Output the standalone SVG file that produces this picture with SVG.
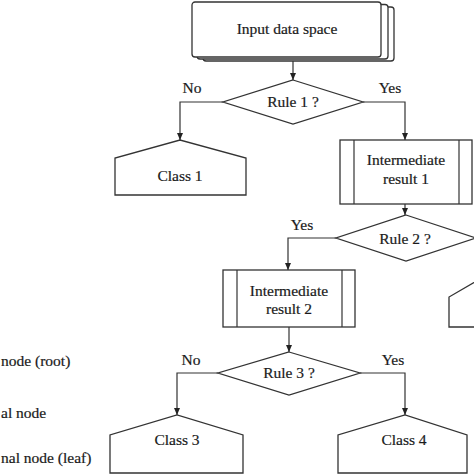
<svg xmlns="http://www.w3.org/2000/svg" width="474" height="474" viewBox="0 0 474 474">
<style>
.s{fill:#fff;stroke:#333;stroke-width:1.3}
.c{fill:none;stroke:#333;stroke-width:1.2}
.t{font-family:"Liberation Serif","Times New Roman",serif;font-size:15.5px;fill:#1a1a1a;stroke:#1a1a1a;stroke-width:0.2;text-anchor:middle}
.l{font-family:"Liberation Serif","Times New Roman",serif;font-size:15.5px;fill:#1a1a1a;stroke:#1a1a1a;stroke-width:0.2;text-anchor:start}
</style>
<defs>
<marker id="ah" markerUnits="userSpaceOnUse" markerWidth="8" markerHeight="6" refX="7" refY="3" orient="auto">
<path d="M0,0 L7,3 L0,6 z" fill="#222"/>
</marker>
</defs>
<rect width="474" height="474" fill="#fff"/>
<g id="legend">
<text class="l" x="1" y="366">node (root)</text>
<text class="l" x="1" y="418">al node</text>
<text class="l" x="1" y="463">nal node (leaf)</text>
</g>
<g id="connectors">
<path class="c" d="M293,57 V80" marker-end="url(#ah)"/>
<path class="c" d="M223,102 H180 V140" marker-end="url(#ah)"/>
<path class="c" d="M363,102 H405 V140" marker-end="url(#ah)"/>
<path class="c" d="M405,204 V215" marker-end="url(#ah)"/>
<path class="c" d="M336,238 H288 V270" marker-end="url(#ah)"/>
<path class="c" d="M289,327 V352" marker-end="url(#ah)"/>
<path class="c" d="M218,373 H177 V415" marker-end="url(#ah)"/>
<path class="c" d="M360,373 H405 V415" marker-end="url(#ah)"/>
<text class="t" x="192" y="93">No</text>
<text class="t" x="390" y="93">Yes</text>
<text class="t" x="302" y="230">Yes</text>
<text class="t" x="191" y="365">No</text>
<text class="t" x="393" y="365">Yes</text>
</g>
<g id="input">
<rect class="s" x="203" y="7" width="191" height="54" rx="3"/>
<rect class="s" x="197" y="4.5" width="191" height="54.5" rx="3"/>
<rect class="s" x="192" y="2" width="189" height="55" rx="3"/>
<text class="t" x="287" y="34">Input data space</text>
</g>
<g id="rule1">
<polygon class="s" points="293,80 363,102 293,124 223,102"/>
<text class="t" x="293" y="107">Rule 1 ?</text>
</g>
<g id="class1">
<polygon class="s" points="115,195 115,158 180,140 246,158 246,195"/>
<text class="t" x="180" y="181">Class 1</text>
</g>
<g id="ir1">
<rect class="s" x="340" y="140" width="132" height="64"/>
<line class="c" x1="354" y1="140" x2="354" y2="204"/>
<line class="c" x1="459" y1="140" x2="459" y2="204"/>
<text class="t" x="406" y="165">Intermediate</text>
<text class="t" x="406" y="184">result 1</text>
</g>
<g id="rule2">
<polygon class="s" points="406,215 476,238 406,261 336,238"/>
<text class="t" x="405" y="244">Rule 2 ?</text>
</g>
<g id="ir2">
<rect class="s" x="223" y="270" width="132" height="57"/>
<line class="c" x1="237" y1="270" x2="237" y2="327"/>
<line class="c" x1="342" y1="270" x2="342" y2="327"/>
<text class="t" x="289" y="296">Intermediate</text>
<text class="t" x="289" y="314">result 2</text>
</g>
<g id="class2">
<polygon class="s" points="449,327 449,297 480,279 540,297 540,327"/>
</g>
<g id="rule3">
<polygon class="s" points="289,352 360,373 289,395 218,373"/>
<text class="t" x="289" y="378">Rule 3 ?</text>
</g>
<g id="class3">
<polygon class="s" points="110,473 110,435 177,415 243,435 243,473"/>
<text class="t" x="177" y="445">Class 3</text>
</g>
<g id="class4">
<polygon class="s" points="338,473 338,435 405,415 467,435 467,473"/>
<text class="t" x="404" y="445">Class 4</text>
</g>
</svg>
